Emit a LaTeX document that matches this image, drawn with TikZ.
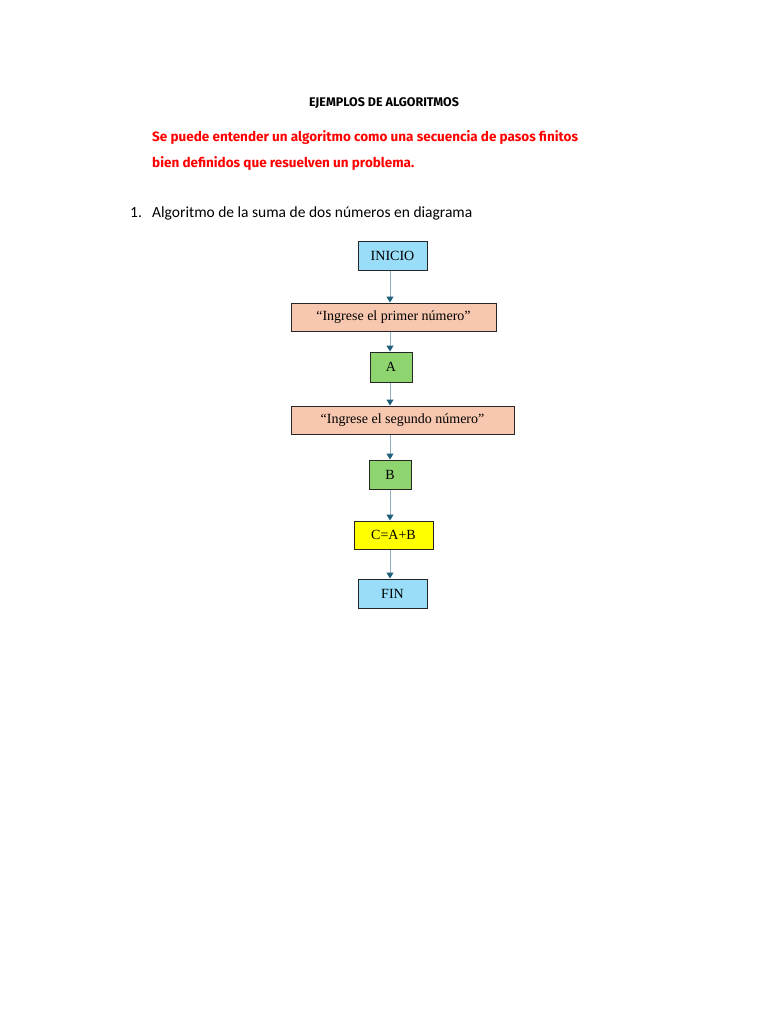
\documentclass[tikz,border=0pt]{standalone}
\usepackage{fontspec}
\setmainfont{Liberation Serif}
\newfontfamily\comic{Fira Sans}
\newfontfamily\calib{Carlito}
\usetikzlibrary{arrows.meta}
\definecolor{cblue}{HTML}{99DDF8}
\definecolor{corange}{HTML}{F7C8AF}
\definecolor{cgreen}{HTML}{8ED46F}
\definecolor{cyellow}{HTML}{FFFF00}
\definecolor{cline}{HTML}{8FB0C4}
\definecolor{chead}{HTML}{1F5F7A}
\definecolor{cred}{HTML}{FF0000}
\tikzset{
  box/.style={draw=black!85, line width=0.9pt, inner sep=0pt, font=\fontsize{14}{16}\selectfont},
  arr/.style={draw=cline, line width=1pt, -{Triangle[length=6pt,width=7pt,fill=chead,color=chead]}},
  txt/.style={anchor=west, inner sep=0pt}
}
\begin{document}
\begin{tikzpicture}[x=1pt,y=-1pt]
\useasboundingbox (0,0) rectangle (768,1024);
\node[inner sep=0pt, font=\comic\bfseries\fontsize{12.5}{15}\selectfont] (title) at (384,103) {EJEMPLOS DE ALGORITMOS};
\node[txt, text=cred, font=\comic\bfseries\fontsize{13.5}{16}\selectfont] (r1) at (152,138) {Se puede entender un algoritmo como una secuencia de pasos finitos};
\node[txt, text=cred, font=\comic\bfseries\fontsize{13.5}{16}\selectfont] (r2) at (152,164) {bien definidos que resuelven un problema.};
\node[txt, font=\calib\fontsize{15.5}{18}\selectfont] (n1) at (130,213) {1.};
\node[txt, font=\calib\fontsize{15.5}{18}\selectfont] (t1) at (152,213) {Algoritmo de la suma de dos números en diagrama};

\node[box, fill=cblue, minimum width=69pt, minimum height=29pt] (ini) at (392.5,255.5) {INICIO};
\node[box, fill=corange, minimum width=205pt, minimum height=28pt] (p1) at (393.5,317) {``Ingrese el primer número''};
\node[box, fill=cgreen, minimum width=42pt, minimum height=30pt] (a) at (391,367) {A};
\node[box, fill=corange, minimum width=223pt, minimum height=28pt] (p2) at (402.5,420) {``Ingrese el segundo número''};
\node[box, fill=cgreen, minimum width=42pt, minimum height=29pt] (b) at (390,474.5) {B};
\node[box, fill=cyellow, minimum width=79pt, minimum height=28pt] (c) at (393.5,535) {C=A+B};
\node[box, fill=cblue, minimum width=69pt, minimum height=29pt] (fin) at (392.5,593.5) {FIN};

\draw[arr] (390,270.5) -- (390,302.5);
\draw[arr] (390,331.5) -- (390,351.5);
\draw[arr] (390,382.5) -- (390,405.5);
\draw[arr] (390,434.5) -- (390,459.5);
\draw[arr] (390,489.5) -- (390,520.5);
\draw[arr] (390,549.5) -- (390,578.5);
\end{tikzpicture}
\end{document}
